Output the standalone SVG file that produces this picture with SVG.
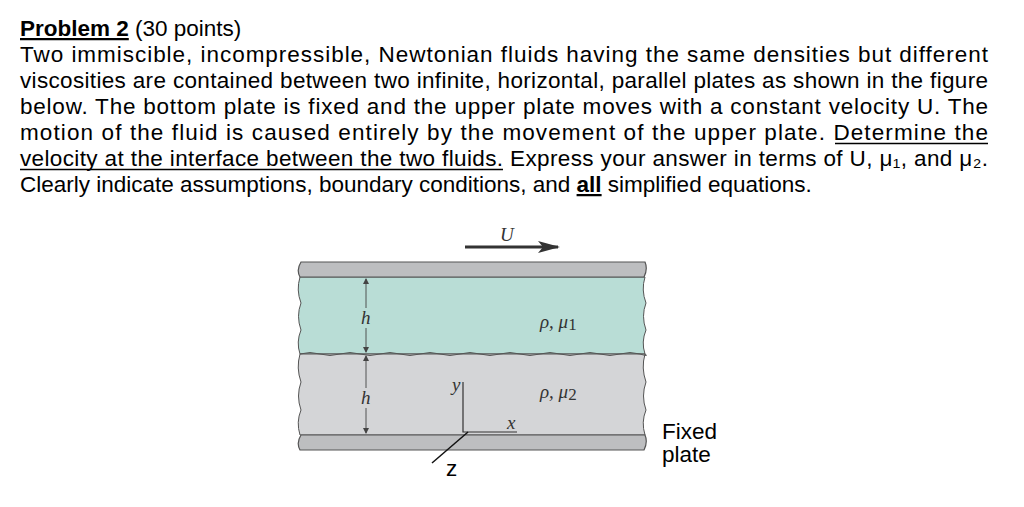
<svg xmlns="http://www.w3.org/2000/svg" width="1024" height="507" viewBox="0 0 1024 507">
<style>
.t{font-family:"Liberation Sans",Arial,sans-serif;font-size:22.5px;fill:#000}
.i{font-family:"Liberation Serif","Times New Roman",serif;font-style:italic;font-size:19px;fill:#333}
.plate{fill:#bdbec0;stroke:#555;stroke-width:1.2}
.dim{stroke:#444;stroke-width:0.9;fill:none}
.ul{stroke:#000;stroke-width:1.6}
</style>
<defs>
<marker id="ah" markerWidth="6" markerHeight="6" refX="5" refY="3" orient="auto" markerUnits="userSpaceOnUse"><path d="M0,0 L6,3 L0,6 z" fill="#444"/></marker>
<marker id="big" markerWidth="22" markerHeight="12" refX="20" refY="6" orient="auto" markerUnits="userSpaceOnUse"><path d="M0,0 L22,6 L0,12 L5,6 z" fill="#333"/></marker>
</defs>
<rect width="1024" height="507" fill="#fff"/>
<g id="text">
<text class="t" x="20" y="36"><tspan font-weight="bold" text-decoration="underline">Problem 2</tspan> (30 points)</text>
<text class="t" x="20" y="62" textLength="968" lengthAdjust="spacing">Two immiscible, incompressible, Newtonian fluids having the same densities but different</text>
<text class="t" x="20" y="88" textLength="968" lengthAdjust="spacing">viscosities are contained between two infinite, horizontal, parallel plates as shown in the figure</text>
<text class="t" x="20" y="114" textLength="968" lengthAdjust="spacing">below.  The bottom plate is fixed and the upper plate moves with a constant velocity U.  The</text>
<text class="t" x="20" y="140" textLength="968" lengthAdjust="spacing">motion of the fluid is caused entirely by the movement of the upper plate.  Determine the</text>
<text class="t" x="20" y="166" textLength="968" lengthAdjust="spacing">velocity at the interface between the two fluids. Express your answer in terms of U, μ₁, and μ₂.</text>
<text class="t" x="20" y="192">Clearly indicate assumptions, boundary conditions, and <tspan font-weight="bold" text-decoration="underline">all</tspan> simplified equations.</text>
<line class="ul" x1="835" y1="143.5" x2="988" y2="143.5"/>
<line class="ul" x1="20" y1="169.5" x2="503" y2="169.5"/>
</g>
<g id="fluid1"><path d="M300,277 L645,277 Q641,290 646,303 Q641,316 646,330 Q641,342 645,354 L300,354 Q296,342 301,330 Q296,316 301,303 Q296,290 300,277 z" fill="#b9ddd6" stroke="#555" stroke-width="1"/></g>
<g id="fluid2"><path d="M300,354 L645,354 Q641,368 646,382 Q641,396 646,410 Q641,422 645,435 L300,435 Q296,422 301,410 Q296,396 301,382 Q296,368 300,354 z" fill="#d4d5d7" stroke="#555" stroke-width="1"/></g>
<path d="M300,354 q10,-3 20,0 t20,0 t20,0 t20,0 t20,0 t20,0 t20,0 t20,0 t20,0 t20,0 t20,0 t20,0 t20,0 t20,0 t20,0 t20,0 t20,0 t5,0" fill="none" stroke="#555" stroke-width="1"/>
<g id="top-plate"><path class="plate" d="M301,262 L645,262 Q648,269 644,277 L300,277 Q296,270 301,262 z"/></g>
<g id="bottom-plate"><path class="plate" d="M301,435 L645,435 Q648,442 644,450 L300,450 Q296,443 301,435 z"/></g>
<g id="connectors">
<line x1="465" y1="247" x2="558" y2="247" stroke="#333" stroke-width="3" marker-end="url(#big)"/>
<line class="dim" x1="366" y1="308" x2="366" y2="279" marker-end="url(#ah)"/>
<line class="dim" x1="366" y1="328" x2="366" y2="352" marker-end="url(#ah)"/>
<line class="dim" x1="366" y1="388" x2="366" y2="356" marker-end="url(#ah)"/>
<line class="dim" x1="366" y1="408" x2="366" y2="433" marker-end="url(#ah)"/>
<path d="M463,382 L463,432 L517,432" fill="none" stroke="#333" stroke-width="1.2"/>
<line x1="468" y1="432" x2="432" y2="463" stroke="#111" stroke-width="1.5"/>
</g>
<g id="labels">
<text class="i" x="500" y="241">U</text>
<text class="i" x="361" y="324">h</text>
<text class="i" x="361" y="404">h</text>
<text class="i" x="452" y="391">y</text>
<text class="i" x="507" y="429">x</text>
<text class="i" x="540" y="328" font-size="21">ρ, μ<tspan font-style="normal" font-size="17" dy="2">1</tspan></text>
<text class="i" x="540" y="398" font-size="21">ρ, μ<tspan font-style="normal" font-size="17" dy="2">2</tspan></text>
<text class="t" x="446" y="476" font-size="15">z</text>
<text class="t" x="662" y="439" font-size="17.5" fill="#333">Fixed</text>
<text class="t" x="662" y="462" font-size="17.5" fill="#333">plate</text>
</g>
</svg>
